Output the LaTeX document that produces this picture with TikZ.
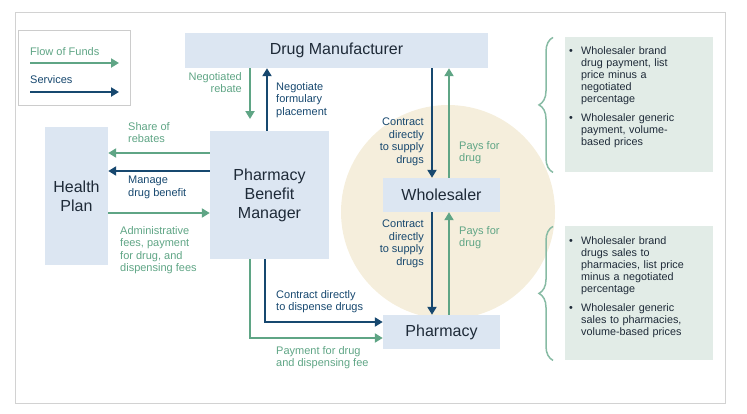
\documentclass[tikz,border=0pt]{standalone}
\usepackage{fontspec}
\setmainfont{Liberation Sans}
\usetikzlibrary{arrows.meta,decorations.pathreplacing}
\definecolor{fund}{HTML}{5FA585}
\definecolor{serv}{HTML}{17486F}
\definecolor{boxb}{HTML}{DCE6F2}
\definecolor{boxg}{HTML}{E2ECE7}
\definecolor{circ}{HTML}{F5EEDC}
\definecolor{txt}{HTML}{1E2A38}
\tikzset{
 ent/.style={fill=boxb,draw=none,text=txt,font=\fontsize{16}{19}\selectfont,align=center,inner sep=0},
 fa/.style={draw=fund,line width=2.6pt,-{Triangle[length=8pt,width=9pt]}},
 sa/.style={draw=serv,line width=2.6pt,-{Triangle[length=8pt,width=9pt]}},
 fl/.style={text=fund,font=\fontsize{11}{12.5}\selectfont,inner sep=0},
 sl/.style={text=serv,font=\fontsize{11}{12.5}\selectfont,inner sep=0},
 note/.style={fill=boxg,text=txt,font=\fontsize{10.8}{12.2}\selectfont,inner sep=0},
 br/.style={draw=fund!75,line width=1.5pt,decorate,decoration={brace,amplitude=14pt}}
}
\begin{document}
\begin{tikzpicture}[x=1pt,y=-1pt]
\useasboundingbox (0,0) rectangle (747,413);
\draw[gray!35,line width=0.8pt] (15,12) rectangle (725,403);
% legend
\draw[gray!40,fill=white] (18,30) rectangle (130,105);
\node[fl,anchor=west,font=\fontsize{11}{12}\selectfont] (lf) at (30,52) {Flow of Funds};
\node[sl,anchor=west,font=\fontsize{11}{12}\selectfont] (ls) at (30,80) {Services};
\coordinate (lf1) at (30,63); \coordinate (lf2) at (119,63);
\coordinate (ls1) at (30,92); \coordinate (ls2) at (119,92);
\draw[fa] (lf1) -- (lf2);
\draw[sa] (ls1) -- (ls2);
% circle
\fill[circ] (448,212) circle (107);
% entities
\node[ent,minimum width=303,minimum height=35] (dm) at (336.5,50.5) {Drug Manufacturer};
\node[ent,minimum width=63,minimum height=138] (hp) at (76.5,196) {Health\\Plan};
\node[ent,minimum width=119,minimum height=128] (pbm) at (269.5,195) {Pharmacy\\Benefit\\Manager};
\node[ent,minimum width=117,minimum height=34] (wh) at (441.5,195) {Wholesaler};
\node[ent,minimum width=117,minimum height=34] (ph) at (441.5,332) {Pharmacy};
% manufacturer <-> PBM
\coordinate (rb) at (250,119);
\draw[fa] (dm.south -| rb) -- (rb);
\draw[sa] (pbm.north -| 267,0) -- (dm.south -| 267,0);
\node[fl,align=right,anchor=north east] (l1) at (242,72) {Negotiated\\rebate};
\node[sl,align=left,anchor=north west] (l2) at (276,82) {Negotiate\\formulary\\placement};
% PBM <-> health plan
\draw[fa] (pbm.west |- 0,153) -- (hp.east |- 0,153);
\draw[sa] (pbm.west |- 0,171) -- (hp.east |- 0,171);
\draw[fa] (hp.east |- 0,213) -- (pbm.west |- 0,213);
\node[fl,align=left,anchor=north west] (l3) at (128,122) {Share of\\rebates};
\node[sl,align=left,anchor=north west] (l4) at (128,176) {Manage\\drug benefit};
\node[fl,align=left,anchor=north west] (l5) at (120,226) {Administrative\\fees, payment\\for drug, and\\dispensing fees};
% manufacturer <-> wholesaler
\draw[sa] (dm.south -| 432,0) -- (wh.north -| 432,0);
\draw[fa] (wh.north -| 449,0) -- (dm.south -| 449,0);
\node[sl,align=right,anchor=north east] (l6) at (424,118) {Contract\\directly\\to supply\\drugs};
\node[fl,align=left,anchor=north west] (l7) at (459,141) {Pays for\\drug};
% wholesaler <-> pharmacy
\draw[sa] (wh.south -| 432,0) -- (ph.north -| 432,0);
\draw[fa] (ph.north -| 449,0) -- (wh.south -| 449,0);
\node[sl,align=right,anchor=north east] (l8) at (424,220) {Contract\\directly\\to supply\\drugs};
\node[fl,align=left,anchor=north west] (l9) at (459,226) {Pays for\\drug};
% PBM <-> pharmacy
\draw[sa] (pbm.south -| 265,0) |- (ph.west |- 0,322);
\draw[fa] (pbm.south -| 250,0) |- (ph.west |- 0,338);
\node[sl,align=left,anchor=north west] (l10) at (276,290) {Contract directly\\to dispense drugs};
\node[fl,align=left,anchor=north west] (l11) at (276,346) {Payment for drug\\and dispensing fee};
% notes
\node[note,minimum width=148,minimum height=135,anchor=north west] (n1) at (565,37) {};
\node[note,anchor=north west,text width=138] at (569,46) {%
\makebox[12pt][l]{•}Wholesaler brand\\\hspace*{12pt}drug payment, list\\\hspace*{12pt}price minus a\\\hspace*{12pt}negotiated\\\hspace*{12pt}percentage\\[6pt]
\makebox[12pt][l]{•}Wholesaler generic\\\hspace*{12pt}payment, volume-\\\hspace*{12pt}based prices};
\node[note,minimum width=148,minimum height=134,anchor=north west] (n2) at (565,226) {};
\node[note,anchor=north west,text width=138] at (569,236) {%
\makebox[12pt][l]{•}Wholesaler brand\\\hspace*{12pt}drugs sales to\\\hspace*{12pt}pharmacies, list price\\\hspace*{12pt}minus a negotiated\\\hspace*{12pt}percentage\\[6pt]
\makebox[12pt][l]{•}Wholesaler generic\\\hspace*{12pt}sales to pharmacies,\\\hspace*{12pt}volume-based prices};
\draw[br] (n1.south west) ++(-12,0) -- ++(0,-135);
\draw[br] (n2.south west) ++(-12,0) -- ++(0,-134);
\end{tikzpicture}
\end{document}
